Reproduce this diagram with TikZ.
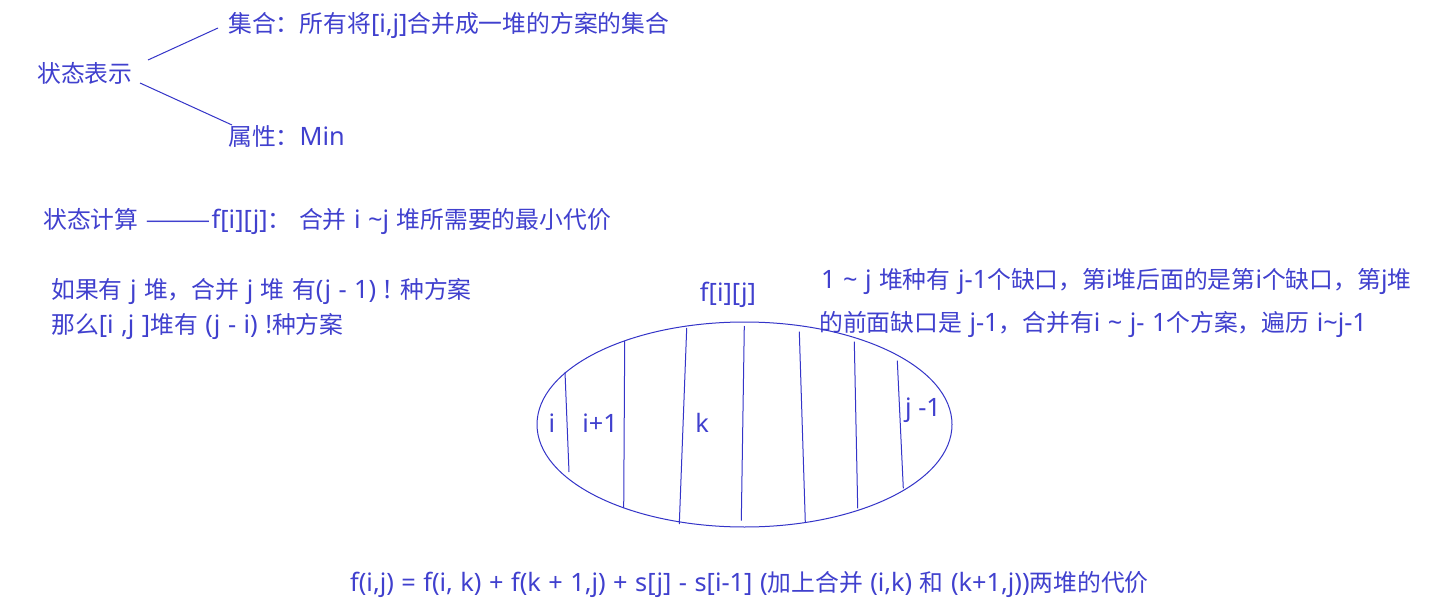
\documentclass[tikz,border=0pt]{standalone}
\usepackage{graphicx}
\usepackage{fontspec}
\setmainfont{Noto Sans}
\newfontfamily\cjkfont{Noto Sans CJK SC}
\newcommand\C[1]{{\cjkfont\fontsize{23.8}{26}\selectfont #1}}
\newcommand\tld{\textasciitilde{}}
\newcommand\widespaces{\spaceskip=7.5pt\relax}
\definecolor{ink}{RGB}{64,64,206}
\definecolor{pen}{RGB}{52,52,200}
\begin{document}
\begin{tikzpicture}[x=1pt,y=-1pt,
  txt/.style={inner sep=0pt,anchor=west,text=ink,font=\fontsize{25.3}{26}\selectfont\widespaces},
  lbl/.style={inner sep=0pt,text=ink,font=\fontsize{25.3}{26}\selectfont},
  stroke/.style={draw=pen,line width=1pt}]
\useasboundingbox[fill=white] (0,0) rectangle (1447,609);
% state representation
\node[txt] (rep) at (37,73) {\C{状态表示}};
\node[txt] (set) at (228,25) {\C{集合：所有将}[i,j]\C{合并成一堆的方案的集合}};
\node[txt] (attr) at (228,136) {\C{属性：}Min};
\coordinate (r1) at (148,60);
\coordinate (s1) at (218,28);
\coordinate (r2) at (140,83);
\coordinate (a1) at (232,125);
\draw[stroke] (r1) -- (s1);
\draw[stroke] (r2) -- (a1);
% state computation
\node[txt] (calc) at (43,221) {\C{状态计算} \scalebox{1.65}[1]{\C{——}}f[i][j]\C{：} \C{合并} i \tld j \C{堆所需要的最小代价}};
% left notes
\node[txt] (n1) at (51,291) {\C{如果有} j \C{堆，合并} j \C{堆} \C{有}(j - 1) ! \C{种方案}};
\node[txt] (n2) at (51,326) {\C{那么}[i ,j ]\C{堆有} (j - i) !\C{种方案}};
% right notes
\node[txt] (m1) at (821,281) {1 \tld\ j \C{堆种有} j-1\C{个缺口，第}i\C{堆后面的是第}i\C{个缺口，第}j\C{堆}};
\node[txt] (m2) at (819,324) {\C{的前面缺口是} j-1\C{，合并有}i \tld\ j- 1\C{个方案，遍历} i\tld j-1};
% ellipse
\node[lbl] (fij) at (728,295) {f[i][j]};
\draw[stroke] (744.5,424.5) ellipse [x radius=207.5, y radius=102.5];
\draw[stroke] (565,372) -- (569,472);
\draw[stroke] (624.7,341) -- (623.7,508);
\draw[stroke] (686.7,328) -- (679.3,524);
\draw[stroke] (744.3,326) -- (741.3,520.7);
\draw[stroke] (799.3,331.7) -- (805.3,522.3);
\draw[stroke] (854.3,341.7) -- (857.7,508.3);
\draw[stroke] (897.3,360.7) -- (903.3,488.3);
\node[lbl] (li) at (552,423) {i};
\node[lbl] (li1) at (600,423) {i+1};
\node[lbl] (lk) at (702,423) {k};
\node[lbl] (lj) at (923,410) {j -1};
% formula
\node[txt] (eq) at (350,584) {f(i,j) = f(i, k) + f(k + 1,j) + s[j] - s[i-1] (\C{加上合并} (i,k) \C{和} (k+1,j))\C{两堆的代价}};
\end{tikzpicture}
\end{document}
